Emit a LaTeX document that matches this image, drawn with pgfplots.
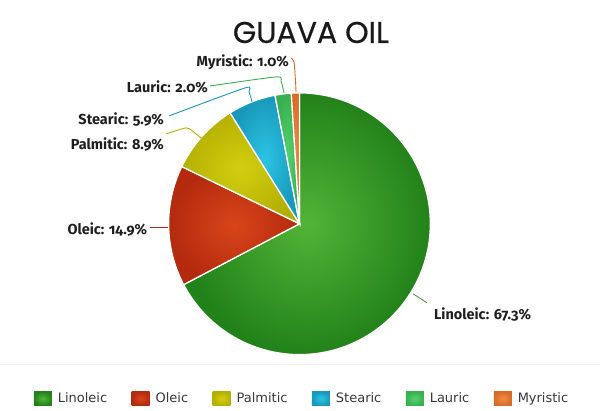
\documentclass[border=0pt]{standalone}
\usepackage{pgfplots}
\pgfplotsset{compat=1.18}
\usepackage{fontspec}
\setmainfont{DejaVu Sans}
\newfontfamily\titlefont[FakeBold=0.5]{Poppins}
\newfontfamily\labelfont[Numbers=OldStyle]{Fira Sans}

\definecolor{linoleicIn}{HTML}{52B437}
\definecolor{linoleicOut}{HTML}{22821A}
\definecolor{oleicIn}{HTML}{D84519}
\definecolor{oleicOut}{HTML}{B42A0E}
\definecolor{palmIn}{HTML}{D2CF12}
\definecolor{palmOut}{HTML}{B4B000}
\definecolor{stearIn}{HTML}{2CC4E4}
\definecolor{stearOut}{HTML}{1898BA}
\definecolor{lauricIn}{HTML}{55D070}
\definecolor{lauricOut}{HTML}{38B050}
\definecolor{myrIn}{HTML}{F08C48}
\definecolor{myrOut}{HTML}{D86A28}

% shares in percent, clockwise from 12 o'clock
\def\pLinoleic{67.3}
\def\pOleic{14.9}
\def\pPalmitic{8.9}
\def\pStearic{5.9}
\def\pLauric{2.0}
\def\pMyristic{1.0}

\pgfmathsetmacro\aA{90}
\pgfmathsetmacro\aB{\aA-3.6*\pLinoleic}
\pgfmathsetmacro\aC{\aB-3.6*\pOleic}
\pgfmathsetmacro\aD{\aC-3.6*\pPalmitic}
\pgfmathsetmacro\aE{\aD-3.6*\pStearic}
\pgfmathsetmacro\aF{\aE-3.6*\pLauric}
\pgfmathsetmacro\aG{\aF-3.6*\pMyristic}

\def\cx{299.5}
\def\cy{187}
\def\rr{131}

\pgfplotsset{
  sqlegend/.style={legend image code/.code={\shade[##1, draw=none] (0pt,-7pt) rectangle (18pt,7pt);}},
  slice/.style={draw=white, line width=1.3pt, samples=80, variable=\t},
}
\newcommand\legtxt[1]{\hspace{4pt}#1}

\begin{document}
\begin{tikzpicture}
\begin{axis}[
  scale only axis,
  width=600pt, height=411pt,
  xmin=0, xmax=600, ymin=0, ymax=411,
  hide axis, clip=false,
  legend columns=6,
  legend style={at={(axis cs:302,12)}, anchor=center, draw=none, fill=none,
    font=\fontsize{13}{15}\selectfont\color{black!78},
    /tikz/every even column/.append style={column sep=22.5pt}},
  sqlegend,
]
\path (rel axis cs:0,0) rectangle (rel axis cs:1,1);

\addplot[slice, inner color=linoleicIn, outer color=linoleicOut, domain=\aB:\aA]
  ({\cx+\rr*cos(\t)}, {\cy+\rr*sin(\t)}) -- (axis cs:\cx,\cy) -- cycle;
\addlegendentry{\legtxt{Linoleic}}
\addplot[slice, inner color=oleicIn, outer color=oleicOut, domain=\aC:\aB]
  ({\cx+\rr*cos(\t)}, {\cy+\rr*sin(\t)}) -- (axis cs:\cx,\cy) -- cycle;
\addlegendentry{\legtxt{Oleic}}
\addplot[slice, inner color=palmIn, outer color=palmOut, domain=\aD:\aC]
  ({\cx+\rr*cos(\t)}, {\cy+\rr*sin(\t)}) -- (axis cs:\cx,\cy) -- cycle;
\addlegendentry{\legtxt{Palmitic}}
\addplot[slice, inner color=stearIn, outer color=stearOut, domain=\aE:\aD]
  ({\cx+\rr*cos(\t)}, {\cy+\rr*sin(\t)}) -- (axis cs:\cx,\cy) -- cycle;
\addlegendentry{\legtxt{Stearic}}
\addplot[slice, inner color=lauricIn, outer color=lauricOut, domain=\aF:\aE, samples=10]
  ({\cx+\rr*cos(\t)}, {\cy+\rr*sin(\t)}) -- (axis cs:\cx,\cy) -- cycle;
\addlegendentry{\legtxt{Lauric}}
\addplot[slice, inner color=myrIn, outer color=myrOut, domain=\aG:\aF, samples=6]
  ({\cx+\rr*cos(\t)}, {\cy+\rr*sin(\t)}) -- (axis cs:\cx,\cy) -- cycle;
\addlegendentry{\legtxt{Myristic}}

% leader lines
\addplot[forget plot, smooth, tension=0.4, color=myrOut, line width=0.9pt]
  coordinates {(291,353) (294,349) (295.5,330) (296,319)};
\addplot[forget plot, smooth, tension=0.4, color=lauricOut, line width=0.9pt]
  coordinates {(210,325) (276,334) (281,330) (284,318)};
\addplot[forget plot, smooth, tension=0.4, color=stearOut, line width=0.9pt]
  coordinates {(169,295) (245,323) (249,319) (252,309)};
\addplot[forget plot, smooth, tension=0.4, color=palmOut, line width=0.9pt]
  coordinates {(166,277) (186,283) (192,280) (202,272)};
\addplot[forget plot, color=oleicOut, line width=0.9pt]
  coordinates {(150,183) (168,183)};
\addplot[forget plot, color=linoleicOut!80, line width=0.9pt]
  coordinates {(413,117) (427,108)};

% separator above legend
\addplot[forget plot, color=black!5, line width=0.6pt] coordinates {(0,46) (600,46)};

\node[font=\titlefont\fontsize{30}{32}\selectfont, text=black!90, anchor=base]
  at (axis cs:311,368) {GUAVA OIL};

\begin{scope}[every node/.style={font=\labelfont\bfseries\fontsize{14.5}{16}\selectfont, text=black!88, inner sep=0pt}]
\node[anchor=east] at (axis cs:289,349) {Myristic: 1.0\%};
\node[anchor=east] at (axis cs:208,324) {Lauric: 2.0\%};
\node[anchor=east] at (axis cs:164,291.5) {Stearic: 5.9\%};
\node[anchor=east] at (axis cs:164,266) {Palmitic: 8.9\%};
\node[anchor=east] at (axis cs:147,181) {Oleic: 14.9\%};
\node[anchor=west] at (axis cs:434,96) {Linoleic: 67.3\%};
\end{scope}
\end{axis}
\end{tikzpicture}
\end{document}
